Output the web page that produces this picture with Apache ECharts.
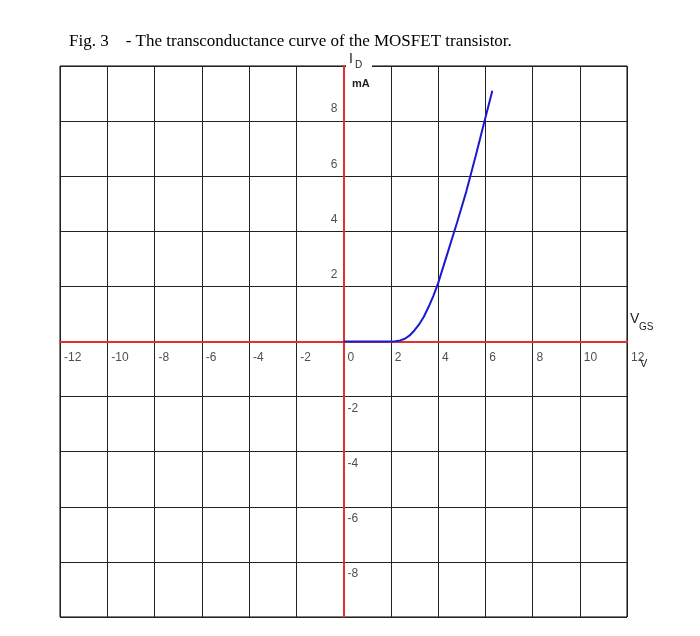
<!DOCTYPE html>
<html><head><meta charset="utf-8">
<script src="https://cdn.jsdelivr.net/npm/echarts@6/dist/echarts.min.js"></script>
<style>html,body{margin:0;background:#fff}#c{width:700px;height:636px}</style>
</head><body><div id="c"></div>
<script>
// transfer curve I_D (mA) vs V_GS (V)
const vgs = [0, 1, 2, 2.2, 2.4, 2.6, 2.8, 3.0, 3.2, 3.4, 3.6, 3.8, 4.0, 4.4, 4.8, 5.2, 5.6, 6.0, 6.3];
const id  = [0, 0, 0, 0.01, 0.04, 0.1, 0.22, 0.4, 0.62, 0.9, 1.25, 1.65, 2.1, 3.2, 4.3, 5.45, 6.75, 8.1, 9.1];
const xTicks = [-12, -10, -8, -6, -4, -2, 0, 2, 4, 6, 8, 10, 12];
const yTicksPos = [2, 4, 6, 8];
const yTicksNeg = [-2, -4, -6, -8];

const chart = echarts.init(document.getElementById('c'));
const lblStyle = {color: '#222', fontSize: 12, fontFamily: 'Liberation Sans'};
chart.setOption({
  animation: false,
  title: {text: 'Fig. 3    - The transconductance curve of the MOSFET transistor.', left: 64, top: 28,
    textStyle: {fontFamily: 'Liberation Serif', fontWeight: 'normal', fontSize: 17, color: '#000'}},
  grid: {left: 60, right: 73, top: 66, bottom: 19, show: true, borderColor: '#000', borderWidth: 1},
  xAxis: {type: 'value', min: -12, max: 12, interval: 2,
    axisLine: {onZero: true, lineStyle: {color: '#e03030', width: 2}},
    axisTick: {show: false}, axisLabel: {show: false},
    splitLine: {lineStyle: {color: '#222', width: 1}}},
  yAxis: {type: 'value', min: -10, max: 10, interval: 2,
    axisLine: {onZero: true, lineStyle: {color: '#e03030', width: 2}},
    axisTick: {show: false}, axisLabel: {show: false},
    splitLine: {lineStyle: {color: '#222', width: 1}}},
  series: [
    {type: 'line', data: vgs.map((v, i) => [v, id[i]]), smooth: false, symbol: 'none',
      lineStyle: {color: '#1a1ad0', width: 2}, z: 5},
    {type: 'scatter', symbolSize: 0, clip: false, silent: true,
      data: xTicks.map(v => [v, 0]),
      label: {show: true, position: 'inside', formatter: p => p.value[0], align: 'left', verticalAlign: 'top',
        offset: [4, 10], ...lblStyle}},
    {type: 'scatter', symbolSize: 0, clip: false, silent: true,
      data: yTicksPos.map(v => [0, v]),
      label: {show: true, position: 'inside', formatter: p => p.value[1], align: 'right', verticalAlign: 'bottom',
        offset: [-6, -6], ...lblStyle}},
    {type: 'scatter', symbolSize: 0, clip: false, silent: true,
      data: yTicksNeg.map(v => [0, v]),
      label: {show: true, position: 'inside', formatter: p => p.value[1], align: 'left', verticalAlign: 'top',
        offset: [4, 6], ...lblStyle}}
  ],
  graphic: [
    {type: 'rect', left: 346, top: 58, shape: {width: 26, height: 14}, style: {fill: '#fff'}, z: 10},
    {type: 'text', left: 349, top: 52, style: {text: 'I', fontSize: 14, fill: '#222', fontFamily: 'Liberation Sans'}, z: 11},
    {type: 'text', left: 355, top: 60, style: {text: 'D', fontSize: 10, fill: '#222', fontFamily: 'Liberation Sans'}, z: 11},
    {type: 'text', left: 352, top: 78, style: {text: 'mA', fontSize: 11, fontWeight: 'bold', fill: '#222', fontFamily: 'Liberation Sans'}, z: 11},
    {type: 'text', left: 630, top: 312, style: {text: 'V', fontSize: 14, fill: '#222', fontFamily: 'Liberation Sans'}, z: 11},
    {type: 'text', left: 639, top: 322, style: {text: 'GS', fontSize: 10, fill: '#222', fontFamily: 'Liberation Sans'}, z: 11},
    {type: 'text', left: 640, top: 358, style: {text: 'V', fontSize: 11, fill: '#222', fontFamily: 'Liberation Sans'}, z: 11}
  ]
});
</script></body></html>
